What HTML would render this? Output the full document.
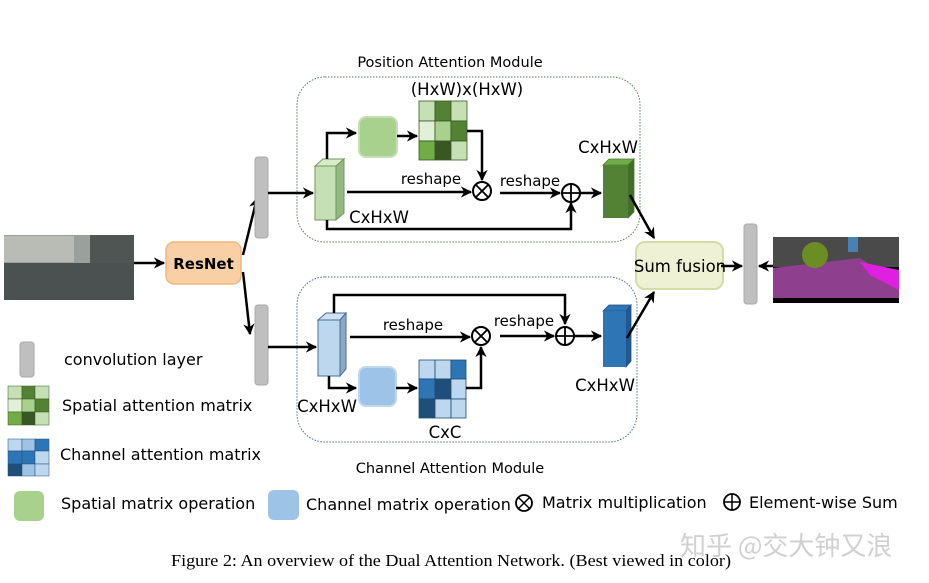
<!DOCTYPE html>
<html><head><meta charset="utf-8"><style>
html,body{margin:0;padding:0;background:#fff;}
svg{display:block;}
text{font-family:"DejaVu Sans","Liberation Sans",sans-serif;}
</style></head><body>
<svg width="929" height="583" viewBox="0 0 929 583" xmlns="http://www.w3.org/2000/svg">
<defs>
<marker id="a" viewBox="0 0 10 10" refX="9" refY="5" markerWidth="4.5" markerHeight="4.5" orient="auto"><path d="M0,0 L10,5 L0,10 L3,5 z" fill="#000"/></marker>
</defs>
<rect width="929" height="583" fill="#fff"/>

<!-- module frames -->
<rect x="297" y="77" width="343" height="165" rx="28" fill="none" stroke="#5a7a5a" stroke-width="1" stroke-dasharray="1.5,1.5"/>
<rect x="297" y="277" width="340" height="165" rx="28" fill="none" stroke="#4a6e9a" stroke-width="1" stroke-dasharray="1.5,1.5"/>
<text x="450" y="67" font-size="14.5" text-anchor="middle">Position Attention Module</text>
<text x="450" y="473" font-size="14.5" text-anchor="middle">Channel Attention Module</text>

<!-- street image -->
<rect x="4" y="235" width="130" height="65" fill="#6a6f70"/>
<rect x="4" y="235" width="130" height="28" fill="#9aa09c"/>
<rect x="4" y="236" width="70" height="26" fill="#b8bcb4"/>
<rect x="90" y="235" width="44" height="30" fill="#4f5552"/>
<rect x="4" y="263" width="130" height="37" fill="#4b5050"/>
<!-- ResNet -->
<rect x="166" y="242" width="75" height="42" rx="8" fill="#f9cfa6" stroke="#f3b679" stroke-width="1.5"/>
<text x="203.5" y="269" font-size="15" font-weight="bold" text-anchor="middle">ResNet</text>
<line x1="134" y1="263" x2="164" y2="263" stroke="#000" stroke-width="2.5" marker-end="url(#a)"/>
<line x1="243" y1="255" x2="257" y2="198" stroke="#000" stroke-width="2.5" marker-end="url(#a)"/>
<line x1="243" y1="272" x2="250" y2="334" stroke="#000" stroke-width="2.5" marker-end="url(#a)"/>

<!-- conv bars -->
<rect x="255" y="157" width="13" height="81" rx="3" fill="#bfbfbf" stroke="#aaa"/>
<rect x="255" y="305" width="13" height="80" rx="3" fill="#bfbfbf" stroke="#aaa"/>
<rect x="744" y="224" width="13" height="80" rx="3" fill="#bfbfbf" stroke="#aaa"/>

<!-- PAM -->
<line x1="268" y1="193" x2="313" y2="193" stroke="#000" stroke-width="2.5" marker-end="url(#a)"/>
<polygon points="315,166 323,159 344,159 336,166" fill="#d9ecc9" stroke="#6f9a58" stroke-width="1"/>
<polygon points="336,166 344,159 344,213 336,220" fill="#94b880" stroke="#6f9a58" stroke-width="1"/>
<rect x="315" y="166" width="21" height="54" fill="#c5e0b4" stroke="#6f9a58" stroke-width="1"/>
<polyline points="327,159 327,133 356,133" fill="none" stroke="#000" stroke-width="2.5" marker-end="url(#a)"/>
<rect x="359" y="117" width="38" height="40" rx="7" fill="#a9d18e" stroke="#c5e0b4" stroke-width="2"/>
<line x1="397" y1="136" x2="417" y2="136" stroke="#000" stroke-width="2.5" marker-end="url(#a)"/>
<g stroke="#385723" stroke-width="0.8">
<rect x="419" y="101" width="16" height="20" fill="#c5e0b4"/><rect x="435" y="101" width="16" height="20" fill="#548235"/><rect x="451" y="101" width="16" height="20" fill="#c5e0b4"/>
<rect x="419" y="121" width="16" height="20" fill="#e2f0d9"/><rect x="435" y="121" width="16" height="20" fill="#a9d18e"/><rect x="451" y="121" width="16" height="20" fill="#548235"/>
<rect x="419" y="141" width="16" height="19" fill="#70ad47"/><rect x="435" y="141" width="16" height="19" fill="#385723"/><rect x="451" y="141" width="16" height="19" fill="#c5e0b4"/>
</g>
<text x="467" y="95" font-size="16.5" text-anchor="middle">(HxW)x(HxW)</text>
<polyline points="467,131 482,131 482,180" fill="none" stroke="#000" stroke-width="2.5" marker-end="url(#a)"/>
<line x1="347" y1="192" x2="471" y2="192" stroke="#000" stroke-width="2.5" marker-end="url(#a)"/>
<text x="431" y="184" font-size="15" text-anchor="middle">reshape</text>
<circle cx="482" cy="191" r="9" fill="#fff" stroke="#000" stroke-width="2"/>
<path d="M476,185 L488,197 M488,185 L476,197" stroke="#000" stroke-width="1.8"/>
<line x1="500" y1="193" x2="560" y2="193" stroke="#000" stroke-width="2.5" marker-end="url(#a)"/>
<text x="530" y="186" font-size="15" text-anchor="middle">reshape</text>
<polyline points="327,220 327,229 571,229 571,203" fill="none" stroke="#000" stroke-width="2.5" marker-end="url(#a)"/>
<circle cx="571" cy="193" r="9" fill="#fff" stroke="#000" stroke-width="2"/>
<path d="M562,193 L580,193 M571,184 L571,202" stroke="#000" stroke-width="1.8"/>
<text x="379" y="223" font-size="16.5" text-anchor="middle">CxHxW</text>
<line x1="580" y1="193" x2="601" y2="193" stroke="#000" stroke-width="2.5" marker-end="url(#a)"/>
<polygon points="603,165 609,159 634,159 628,165" fill="#70ad47" stroke="#4a7a30" stroke-width="0.8"/>
<polygon points="628,165 634,159 634,212 628,218" fill="#3f6e27" stroke="#4a7a30" stroke-width="0.8"/>
<rect x="603" y="165" width="25" height="53" fill="#548235"/>
<text x="608" y="153" font-size="16.5" text-anchor="middle">CxHxW</text>
<line x1="630" y1="195" x2="654" y2="238" stroke="#000" stroke-width="2.5" marker-end="url(#a)"/>

<!-- CAM -->
<line x1="268" y1="347" x2="316" y2="347" stroke="#000" stroke-width="2.5" marker-end="url(#a)"/>
<polygon points="318,320 326,313 346,313 340,320" fill="#cfe1f3" stroke="#4a6e9a" stroke-width="1"/>
<polygon points="340,320 346,313 346,369 340,376" fill="#8aa9c9" stroke="#4a6e9a" stroke-width="1"/>
<rect x="318" y="320" width="22" height="56" fill="#bdd7ee" stroke="#4a6e9a" stroke-width="1"/>
<polyline points="334,313 334,295 565,295 565,324" fill="none" stroke="#000" stroke-width="2.5" marker-end="url(#a)"/>
<line x1="350" y1="337" x2="470" y2="337" stroke="#000" stroke-width="2.5" marker-end="url(#a)"/>
<text x="413" y="330" font-size="15" text-anchor="middle">reshape</text>
<circle cx="481" cy="336" r="9" fill="#fff" stroke="#000" stroke-width="2"/>
<path d="M475,330 L487,342 M487,330 L475,342" stroke="#000" stroke-width="1.8"/>
<line x1="500" y1="336" x2="554" y2="336" stroke="#000" stroke-width="2.5" marker-end="url(#a)"/>
<text x="524" y="326" font-size="15" text-anchor="middle">reshape</text>
<circle cx="565" cy="336" r="9" fill="#fff" stroke="#000" stroke-width="2"/>
<path d="M556,336 L574,336 M565,327 L565,345" stroke="#000" stroke-width="1.8"/>
<line x1="574" y1="336" x2="601" y2="336" stroke="#000" stroke-width="2.5" marker-end="url(#a)"/>
<polygon points="603,311 609,305 631,305 626,311" fill="#2e75b6" stroke="#1f4e79" stroke-width="0.8"/>
<polygon points="626,311 631,305 631,361 626,367" fill="#1f5a96" stroke="#1f4e79" stroke-width="0.8"/>
<rect x="603" y="311" width="23" height="56" fill="#2e75b6"/>
<text x="605" y="391" font-size="16.5" text-anchor="middle">CxHxW</text>
<line x1="627" y1="338" x2="654" y2="292" stroke="#000" stroke-width="2.5" marker-end="url(#a)"/>
<polyline points="329,376 329,388 356,388" fill="none" stroke="#000" stroke-width="2.5" marker-end="url(#a)"/>
<rect x="359" y="367" width="37" height="39" rx="7" fill="#9dc3e6" stroke="#bdd7ee" stroke-width="2"/>
<line x1="396" y1="388" x2="417" y2="388" stroke="#000" stroke-width="2.5" marker-end="url(#a)"/>
<g stroke="#1f4e79" stroke-width="0.8">
<rect x="419" y="360" width="16" height="19" fill="#bdd7ee"/><rect x="435" y="360" width="16" height="19" fill="#bdd7ee"/><rect x="451" y="360" width="15" height="19" fill="#2e75b6"/>
<rect x="419" y="379" width="16" height="20" fill="#2e75b6"/><rect x="435" y="379" width="16" height="20" fill="#1f4e79"/><rect x="451" y="379" width="15" height="20" fill="#bdd7ee"/>
<rect x="419" y="399" width="16" height="19" fill="#1f4e79"/><rect x="435" y="399" width="16" height="19" fill="#bdd7ee"/><rect x="451" y="399" width="15" height="19" fill="#bdd7ee"/>
</g>
<polyline points="466,388 481,388 481,347" fill="none" stroke="#000" stroke-width="2.5" marker-end="url(#a)"/>
<text x="327" y="412" font-size="16.5" text-anchor="middle">CxHxW</text>
<text x="445" y="438" font-size="16.5" text-anchor="middle">CxC</text>

<!-- Sum fusion & output -->
<rect x="636" y="242" width="87" height="47" rx="9" fill="#eef1d4" stroke="#d5dca3" stroke-width="2"/>
<text x="680" y="272" font-size="16.5" text-anchor="middle">Sum fusion</text>
<line x1="721" y1="266" x2="742" y2="266" stroke="#000" stroke-width="2.5" marker-end="url(#a)"/>
<line x1="773" y1="266" x2="759" y2="266" stroke="#000" stroke-width="2.5" marker-end="url(#a)"/>
<rect x="773" y="237" width="126" height="66" fill="#000"/>
<rect x="773" y="237" width="126" height="30" fill="#4a4a4a"/>
<polygon points="773,268 860,258 899,285 899,298 773,298" fill="#8e3f8e"/>
<circle cx="815" cy="255" r="13" fill="#6b8e23"/>
<rect x="848" y="237" width="10" height="15" fill="#4682b4"/>
<polygon points="860,262 899,270 899,290 870,275" fill="#e020e0"/>

<!-- legend -->
<rect x="20" y="342" width="14" height="35" rx="3" fill="#bfbfbf" stroke="#aaa"/>
<text x="64" y="365" font-size="16">convolution layer</text>
<g stroke="#385723" stroke-width="0.5">
<rect x="8" y="386" width="14" height="13" fill="#c5e0b4"/><rect x="22" y="386" width="13" height="13" fill="#548235"/><rect x="35" y="386" width="14" height="13" fill="#c5e0b4"/>
<rect x="8" y="399" width="14" height="13" fill="#e2f0d9"/><rect x="22" y="399" width="13" height="13" fill="#a9d18e"/><rect x="35" y="399" width="14" height="13" fill="#548235"/>
<rect x="8" y="412" width="14" height="13" fill="#70ad47"/><rect x="22" y="412" width="13" height="13" fill="#385723"/><rect x="35" y="412" width="14" height="13" fill="#c5e0b4"/>
</g>
<text x="62" y="411" font-size="16">Spatial attention matrix</text>
<g stroke="#1f4e79" stroke-width="0.5">
<rect x="8" y="439" width="14" height="12" fill="#bdd7ee"/><rect x="22" y="439" width="13" height="12" fill="#9dc3e6"/><rect x="35" y="439" width="14" height="12" fill="#2e75b6"/>
<rect x="8" y="451" width="14" height="13" fill="#2e75b6"/><rect x="22" y="451" width="13" height="13" fill="#2e75b6"/><rect x="35" y="451" width="14" height="13" fill="#bdd7ee"/>
<rect x="8" y="464" width="14" height="12" fill="#1f4e79"/><rect x="22" y="464" width="13" height="12" fill="#9dc3e6"/><rect x="35" y="464" width="14" height="12" fill="#bdd7ee"/>
</g>
<text x="60" y="460" font-size="16">Channel attention matrix</text>
<rect x="14" y="491" width="30" height="30" rx="6" fill="#a9d18e"/>
<text x="61" y="509" font-size="16">Spatial matrix operation</text>
<rect x="268" y="490" width="31" height="30" rx="6" fill="#9dc3e6"/>
<text x="306" y="510" font-size="16">Channel matrix operation</text>
<circle cx="524" cy="503" r="8" fill="#fff" stroke="#000" stroke-width="1.8"/>
<path d="M518.5,497.5 L529.5,508.5 M529.5,497.5 L518.5,508.5" stroke="#000" stroke-width="1.5"/>
<text x="542" y="508" font-size="16">Matrix multiplication</text>
<circle cx="732" cy="502" r="8" fill="#fff" stroke="#000" stroke-width="1.8"/>
<path d="M724,502 L740,502 M732,494 L732,510" stroke="#000" stroke-width="1.5"/>
<text x="749" y="508" font-size="16">Element-wise Sum</text>

<text x="680" y="555" font-size="26" fill="#d0d0d0" style="font-family:'Noto Sans CJK SC',sans-serif">知乎 @交大钟又浪</text>
<text x="171" y="566" font-size="17" style="font-family:'Liberation Serif',serif" textLength="560" lengthAdjust="spacingAndGlyphs">Figure 2: An overview of the Dual Attention Network. (Best viewed in color)</text>
</svg>
</body></html>
